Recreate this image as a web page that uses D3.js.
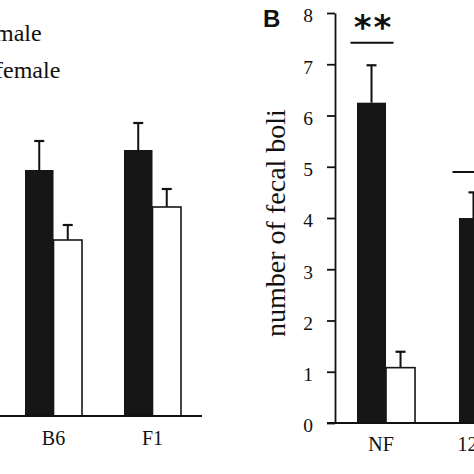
<!DOCTYPE html>
<html>
<head>
<meta charset="utf-8">
<script src="https://cdn.jsdelivr.net/npm/d3@7"></script>
<style>
  html, body { margin: 0; padding: 0; background: #fff; overflow: hidden; }
  svg { display: block; }
  .serif { font-family: "Liberation Serif", "Times New Roman", serif; fill: #111; }
  .axis text { font-family: "Liberation Serif", "Times New Roman", serif; font-size: 19.5px; fill: #111; }
  .axis line, .axis path { stroke: #111; stroke-width: 1.8; }
</style>
</head>
<body>
<svg id="chart" width="474" height="474"></svg>
<script>
// Left panel (partly cropped): strain groups
const groupsLeft = ['B6', 'F1'];
const maleLeft = [4.92, 5.32];
const maleLeftErr = [0.58, 0.54];
const femaleLeft = [3.52, 4.18];
const femaleLeftErr = [0.30, 0.36];

// Panel B: number of fecal boli
const groupsRight = ['NF', '129Sv'];
const maleRight = [6.25, 4.0];
const maleRightErr = [0.73, 0.5];
const femaleRight = [1.08, 3.0];
const femaleRightErr = [0.31, 0.4];
const yTicksRight = [0, 1, 2, 3, 4, 5, 6, 7, 8];

// significance bars in panel B
const sigGroups = ['NF', '129Sv'];
const sigLevel = [7.42, 4.9];
const sigLabel = ['**', ''];

const sexes = ['male', 'female'];

const svg = d3.select('#chart');

function drawBars(g, groups, male, maleErr, female, femaleErr, x, y) {
  const sub = d3.scaleBand().domain(sexes).range([0, x.bandwidth()]);
  const rows = [];
  groups.forEach((grp, i) => {
    rows.push({ grp, sex: 'male', v: male[i], e: maleErr[i] });
    rows.push({ grp, sex: 'female', v: female[i], e: femaleErr[i] });
  });

  // error bars first (upward only)
  const eb = g.append('g').selectAll('g').data(rows).join('g');
  eb.append('line')
    .attr('x1', (d) => x(d.grp) + sub(d.sex) + sub.bandwidth() / 2)
    .attr('x2', (d) => x(d.grp) + sub(d.sex) + sub.bandwidth() / 2)
    .attr('y1', (d) => y(d.v))
    .attr('y2', (d) => y(d.v + d.e))
    .attr('stroke', '#111').attr('stroke-width', 2);
  eb.append('line')
    .attr('x1', (d) => x(d.grp) + sub(d.sex) + sub.bandwidth() / 2 - 5)
    .attr('x2', (d) => x(d.grp) + sub(d.sex) + sub.bandwidth() / 2 + 5)
    .attr('y1', (d) => y(d.v + d.e))
    .attr('y2', (d) => y(d.v + d.e))
    .attr('stroke', '#111').attr('stroke-width', 2.2);

  g.append('g').selectAll('rect').data(rows).join('rect')
    .attr('x', (d) => x(d.grp) + sub(d.sex))
    .attr('width', sub.bandwidth())
    .attr('y', (d) => y(d.v))
    .attr('height', (d) => y(0) - y(d.v))
    .attr('fill', (d) => (d.sex === 'male' ? '#161616' : '#fff'))
    .attr('stroke', '#161616')
    .attr('stroke-width', (d) => (d.sex === 'male' ? 0 : 1.6));
}

// ---- Left panel ----
const xL = d3.scaleBand().domain(groupsLeft).range([25, 181]).paddingInner(0.424);
const yL = d3.scaleLinear().domain([0, 8]).range([416, 16]);
const gL = svg.append('g');
drawBars(gL, groupsLeft, maleLeft, maleLeftErr, femaleLeft, femaleLeftErr, xL, yL);
gL.append('line')
  .attr('x1', -10).attr('x2', 202)
  .attr('y1', yL(0)).attr('y2', yL(0))
  .attr('stroke', '#111').attr('stroke-width', 1.8);
gL.append('g').selectAll('text').data(groupsLeft).join('text')
  .attr('class', 'serif')
  .attr('x', (d) => xL(d) + xL.bandwidth() / 2)
  .attr('y', yL(0) + 29)
  .attr('text-anchor', 'middle')
  .attr('font-size', 20)
  .text((d) => d);

// legend (squares cropped off to the left)
gL.append('g').selectAll('text').data(sexes).join('text')
  .attr('class', 'serif')
  .attr('x', -5)
  .attr('y', (d, i) => 41 + i * 37)
  .attr('font-size', 24)
  .text((d) => d);

// ---- Panel B ----
const xR = d3.scaleBand().domain(groupsRight).range([357, 517]).paddingInner(0.431);
const yR = d3.scaleLinear().domain([0, 8]).range([423, 13]);
const gR = svg.append('g');
drawBars(gR, groupsRight, maleRight, maleRightErr, femaleRight, femaleRightErr, xR, yR);

gR.append('line')
  .attr('x1', 327).attr('x2', 480)
  .attr('y1', yR(0)).attr('y2', yR(0))
  .attr('stroke', '#111').attr('stroke-width', 1.8);

gR.append('g')
  .attr('class', 'axis')
  .attr('transform', 'translate(335,0)')
  .call(d3.axisLeft(yR).tickValues(yTicksRight).tickSize(8).tickSizeOuter(0).tickPadding(14))
  .call((a) => a.selectAll('text').attr('dy', '0.45em'));

gR.append('g').selectAll('text').data(groupsRight).join('text')
  .attr('class', 'serif')
  .attr('x', (d) => xR(d) + xR.bandwidth() / 2 - 5)
  .attr('y', yR(0) + 28)
  .attr('text-anchor', 'middle')
  .attr('font-size', 20)
  .text((d) => d);

// significance lines
const subR = d3.scaleBand().domain(sexes).range([0, xR.bandwidth()]);
sigGroups.forEach((grp, i) => {
  const cx = xR(grp) + subR('male') + subR.bandwidth() / 2;
  gR.append('line')
    .attr('x1', cx - 21).attr('x2', cx + 22)
    .attr('y1', yR(sigLevel[i])).attr('y2', yR(sigLevel[i]))
    .attr('stroke', '#111').attr('stroke-width', 2);
  if (sigLabel[i]) {
    gR.append('text')
      .attr('x', cx + 2)
      .attr('y', yR(sigLevel[i]) - 4)
      .attr('text-anchor', 'middle')
      .attr('font-family', '"DejaVu Sans", sans-serif')
      .attr('font-weight', 'bold')
      .attr('font-size', 34)
      .attr('letter-spacing', 2)
      .attr('fill', '#111')
      .text(sigLabel[i]);
  }
});

// axis title
gR.append('text')
  .attr('class', 'serif')
  .attr('transform', 'translate(285,223) rotate(-90)')
  .attr('text-anchor', 'middle')
  .attr('font-size', 28)
  .text('number of fecal boli');

// panel letter
svg.append('text')
  .attr('x', 263).attr('y', 27)
  .attr('font-family', '"Liberation Sans", Arial, sans-serif')
  .attr('font-weight', 'bold')
  .attr('font-size', 24)
  .attr('fill', '#111')
  .text('B');
</script>
</body>
</html>
